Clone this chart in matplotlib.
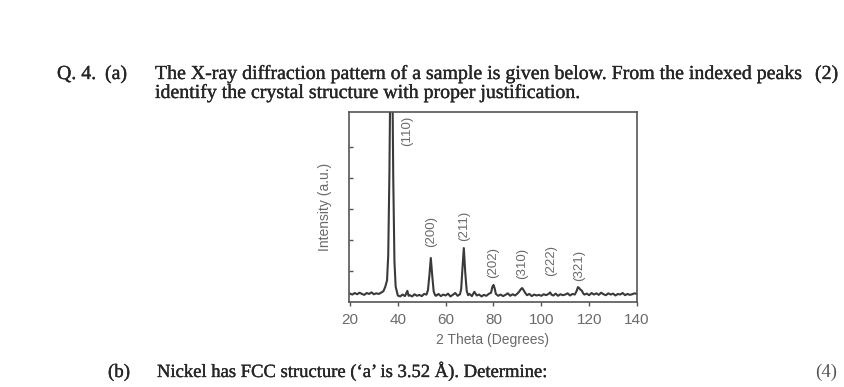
"""Exam question page with an indexed XRD pattern (BCC peaks)."""

import matplotlib
matplotlib.use("Agg")
import matplotlib.pyplot as plt
import matplotlib.patheffects as pe

W, H = 844, 387

# --- trace: (2-theta deg, intensity a.u.) ---
TRACE = [
    (20, 0.27), (21, 0.24), (22, 0.29), (23, 0.25), (24, 0.30), (25, 0.26),
    (26, 0.23), (27, 0.29), (28, 0.26), (29, 0.31), (30, 0.25), (31, 0.28),
    (32, 0.26), (33, 0.30), (34, 0.35), (34.8, 0.50), (35.5, 0.70),
    (36.0, 1.5), (36.5, 4.2), (36.9, 7.5), (37.3, 7.5), (37.7, 7.5),
    (38.1, 4.0), (38.6, 1.3), (39.1, 0.50), (39.7, 0.30),
    (40, 0.21), (41, 0.18), (42, 0.24), (43, 0.19), (44, 0.36), (44.5, 0.20),
    (45, 0.22), (46, 0.18), (47, 0.25), (48, 0.20), (49, 0.23), (50, 0.19),
    (51, 0.26), (52, 0.24), (52.6, 0.38), (53.2, 0.85), (53.8, 1.42),
    (54.4, 0.85), (55.0, 0.34), (55.6, 0.22),
    (56, 0.20), (57, 0.26), (58, 0.19), (59, 0.24), (60, 0.21), (61, 0.27),
    (62, 0.18), (63, 0.23), (64, 0.29), (65, 0.20), (66, 0.25),
    (66.5, 0.42), (67.0, 1.05), (67.6, 1.74), (68.2, 0.95), (68.8, 0.36),
    (69.4, 0.22),
    (70, 0.26), (71, 0.19), (72, 0.33), (73, 0.21), (74, 0.24), (75, 0.18),
    (76, 0.23), (77, 0.20), (78, 0.26), (79, 0.30), (79.5, 0.48),
    (80.0, 0.55), (80.5, 0.44), (81, 0.26),
    (82, 0.20), (83, 0.24), (84, 0.19), (85, 0.23), (86, 0.28), (87, 0.20),
    (88, 0.25), (89, 0.21), (90, 0.27), (90.8, 0.34), (91.5, 0.42),
    (92.0, 0.45), (92.6, 0.38), (93.3, 0.29),
    (94, 0.22), (95, 0.26), (96, 0.19), (97, 0.24), (98, 0.21), (99, 0.23),
    (100, 0.20), (101, 0.25), (102, 0.22), (103, 0.26), (103.7, 0.31),
    (104.2, 0.24), (105, 0.21),
    (106, 0.27), (107, 0.20), (108, 0.25), (109, 0.22), (110, 0.24),
    (111, 0.28), (112, 0.21), (113, 0.26), (114, 0.24), (114.8, 0.36),
    (115.3, 0.48), (115.8, 0.45), (116.3, 0.40), (116.9, 0.37),
    (117.5, 0.28),
    (118, 0.24), (119, 0.27), (120, 0.22), (121, 0.29), (122, 0.24),
    (123, 0.28), (124, 0.23), (125, 0.30), (126, 0.25), (127, 0.22),
    (128, 0.28), (129, 0.24), (130, 0.27), (131, 0.21), (132, 0.26),
    (133, 0.24), (134, 0.29), (135, 0.22), (136, 0.26), (137, 0.23),
    (138, 0.25), (139, 0.28), (140, 0.26),
]
TWO_THETA = [t for t, _ in TRACE]
INTENSITY = [i for _, i in TRACE]

# indexed peaks and where their labels sit (data coords)
PEAK_LABELS = ["(110)", "(200)", "(211)", "(202)", "(310)", "(222)", "(321)"]
LABEL_X = [43.8, 53.8, 67.6, 80.0, 92.1, 104.0, 116.0]
LABEL_Y = [5.52, 2.26, 2.45, 1.29, 1.26, 1.35, 1.19]

X_TICKS = [20, 40, 60, 80, 100, 120, 140]
Y_TICKS = [1, 2, 3, 4, 5]

SERIF = ["Liberation Serif", "DejaVu Serif"]
SANS = ["Liberation Sans", "DejaVu Sans"]
INK = "#262626"
GREY = "#6a6a6a"
# scanned print looks a touch heavier than the regular face
THICK = [pe.withStroke(linewidth=0.25, foreground=INK)]


def px(x, y):
    """pixel position (from top-left) -> figure fraction"""
    return x / W, 1 - y / H


fig = plt.figure(figsize=(W / 100, H / 100), dpi=100)
fig.patch.set_facecolor("white")

# question text
body = dict(family=SERIF, fontsize=14.3, color=INK, va="baseline",
            path_effects=THICK)
fig.text(*px(57, 79), "Q. 4.", **body)
fig.text(*px(105, 79), "(a)", **body)
fig.text(*px(155, 79), "The X-ray diffraction pattern of a sample is given "
         "below. From the indexed peaks", **body)
fig.text(*px(815, 79), "(2)", **body)
fig.text(*px(155, 98), "identify the crystal structure with proper "
         "justification.", **body)
fig.text(*px(108, 377), "(b)", **{**body, "fontsize": 13.6})
fig.text(*px(157, 377), "Nickel has FCC structure (\u2018a\u2019 is 3.52 \u00c5). "
         "Determine:", **{**body, "fontsize": 13.4})
fig.text(*px(815, 377), "(4)", family=SERIF, fontsize=13.6, color="#555555",
         va="baseline")

# XRD panel
left, top = px(349, 112)
right, bottom = px(637, 302)
ax = fig.add_axes([left, bottom, right - left, top - bottom])
ax.plot(TWO_THETA, INTENSITY, color="#3a3a3a", lw=1.5)
ax.set_xlim(19.6, 140)
ax.set_ylim(0, 6.13)

for lab, lx, ly in zip(PEAK_LABELS, LABEL_X, LABEL_Y):
    ax.text(lx, ly, lab, rotation=90, ha="center", va="center",
            family=SANS, fontsize=9.5, color=GREY)

ax.set_xticks(X_TICKS)
ax.set_xticklabels([str(t) for t in X_TICKS], family=SANS, fontsize=11,
                   color=GREY)
ax.set_yticks(Y_TICKS)
ax.set_yticklabels([])
ax.tick_params(axis="x", direction="out", length=3, width=1, color="#555555",
               pad=5)
ax.tick_params(axis="y", direction="in", length=3, width=1, color="#555555")
for sp in ax.spines.values():
    sp.set_color("#555555")
    sp.set_linewidth(1.2)

ax.set_xlabel("2 Theta (Degrees)", family=SANS, fontsize=10, color=GREY,
              labelpad=4)
ax.set_ylabel("Intensity (a.u.)", family=SANS, fontsize=10, color=GREY,
              labelpad=9)

fig.savefig("out.png", dpi=100, facecolor="white")
